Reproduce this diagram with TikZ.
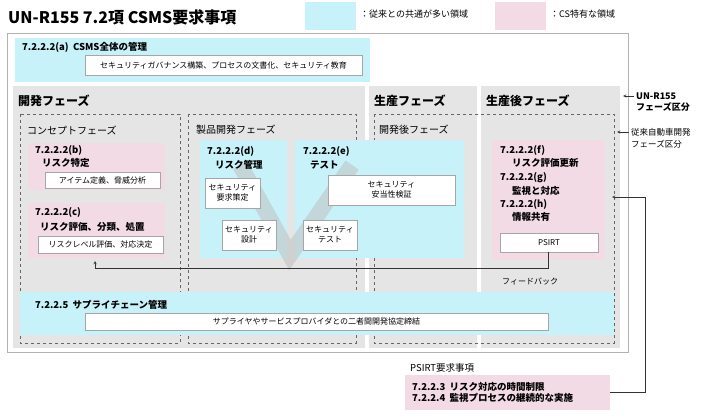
\documentclass[tikz,border=0pt]{standalone}
\usepackage{fontspec}
\setmainfont{Noto Sans CJK JP}
\definecolor{cyc}{RGB}{200,242,250}
\definecolor{pkc}{RGB}{242,219,228}
\begin{document}
\begin{tikzpicture}[x=1pt,y=-1pt,
  cy/.style={fill=cyc,draw=none},
  pk/.style={fill=pkc,draw=none},
  wb/.style={fill=white,draw=gray!70,line width=0.5pt,font=\fontsize{8}{10}\selectfont,align=center,inner sep=1pt},
  ph/.style={fill=gray!20,draw=none},
  db/.style={draw=gray!80!black,dashed,line width=0.4pt},
  bt/.style={font=\bfseries\fontsize{9.5}{11}\selectfont,anchor=west,inner sep=0},
  bl/.style={font=\fontsize{9}{11}\selectfont,anchor=west,inner sep=0},
  ar/.style={->,>=stealth,gray!40!black,line width=0.5pt}]
\useasboundingbox (0,0) rectangle (715,420);
\node[bt,font=\bfseries\fontsize{16}{18}\selectfont] (title) at (8,17) {UN-R155 7.2項 CSMS要求事項};
\fill[cy] (305,2) rectangle (356,30);
\node[bl] (lg1) at (360,14) {：従来との共通が多い領域};
\fill[pk] (495,2) rectangle (546,30);
\node[bl] (lg2) at (550,14) {：CS特有な領域};
\draw[gray!60,line width=0.8pt,fill=white] (7,33) rectangle (628,352);
\fill[cy] (15,38) rectangle (370,82);
\node[bt] (a) at (22,47) {7.2.2.2(a)\ \ CSMS全体の管理};
\node[wb,minimum width=277,minimum height=20] (aw) at (223.5,65) {セキュリティガバナンス構築、プロセスの文書化、セキュリティ教育};
\fill[ph] (13,86) rectangle (365,348);
\fill[ph] (369,86) rectangle (477,348);
\fill[ph] (481,86) rectangle (620,348);
\node[bt,font=\bfseries\fontsize{12}{14}\selectfont] (p1) at (18,101) {開発フェーズ};
\node[bt,font=\bfseries\fontsize{12}{14}\selectfont] (p2) at (374,101) {生産フェーズ};
\node[bt,font=\bfseries\fontsize{12}{14}\selectfont] (p3) at (486,101) {生産後フェーズ};
\node[bt,align=left,font=\bfseries\fontsize{9}{11}\selectfont] (r1) at (636,102) {UN-R155\\フェーズ区分};
\coordinate (r1a) at (623,96);
\draw[ar] (634,96) -- (r1a);
\node[bl,align=left,font=\fontsize{8.5}{12}\selectfont] (r2) at (631,138) {従来自動車開発\\フェーズ区分};
\coordinate (r2a) at (617,132);
\draw[ar] (629,132) -- (r2a);
\draw[db] (20,114) rectangle (180,343);
\draw[db] (188,114) rectangle (356,343);
\draw[db] (374,114) rectangle (614,343);
\node[bl,font=\fontsize{10}{12}\selectfont] (c1) at (27,130) {コンセプトフェーズ};
\node[bl,font=\fontsize{10}{12}\selectfont] (c2) at (196,130) {製品開発フェーズ};
\node[bl,font=\fontsize{10}{12}\selectfont] (c3) at (379,130) {開発後フェーズ};
% b, c
\fill[pk] (28,143) rectangle (165,190);
\node[bt] (b) at (35,150) {7.2.2.2(b)};
\node[bt] (b2) at (42,163) {リスク特定};
\node[wb,minimum width=115,minimum height=16] (bw) at (102.5,180.5) {アイテム定義、脅威分析};
\fill[pk] (28,203) rectangle (165,258);
\node[bt] (c) at (35,212) {7.2.2.2(c)};
\node[bt] (c2b) at (40,227) {リスク評価、分類、処置};
\node[wb,minimum width=125,minimum height=17] (cw) at (100.5,244.5) {リスクレベル評価、対応決定};
% d, e
\fill[cy] (200,140) rectangle (287,258);
\fill[cy] (295,140) rectangle (464,258);
\draw[gray!50,opacity=0.55,line width=16pt,line join=miter] (240,165) -- (290,255) -- (352,165);
\node[bt] (d) at (207,151) {7.2.2.2(d)};
\node[bt] (d2) at (215,165) {リスク管理};
\node[bt] (e) at (303,151) {7.2.2.2(e)};
\node[bt] (e2) at (310,165) {テスト};
\node[wb,minimum width=55,minimum height=30] (d3) at (232.5,193) {セキュリティ\\要求策定};
\node[wb,minimum width=54,minimum height=30] (d4) at (249,235) {セキュリティ\\設計};
\node[wb,minimum width=127,minimum height=30] (e3) at (391.5,190) {セキュリティ\\安当性検証};
\node[wb,minimum width=54,minimum height=30] (e4) at (330,235) {セキュリティ\\テスト};
% f
\fill[pk] (492,140) rectangle (605,260);
\node[bt] (f) at (500,150) {7.2.2.2(f)};
\node[bt] (f2) at (512,163) {リスク評価更新};
\node[bt] (g) at (500,178) {7.2.2.2(g)};
\node[bt] (g2) at (512,191) {監視と対応};
\node[bt] (h) at (500,204) {7.2.2.2(h)};
\node[bt] (h2) at (512,217) {情報共有};
\node[wb,minimum width=98,minimum height=19] (ps) at (549,242.5) {PSIRT};
\coordinate (fb1) at (548,268);
\coordinate (fb2) at (95,268);
\coordinate (cin) at (95,261);
\draw[ar] (548,252) -- (fb1) -- (fb2) -- (cin);
\node[bl,font=\fontsize{8}{10}\selectfont] (fbl) at (502,282) {フィードバック};
% supply chain
\fill[cy] (20,292) rectangle (614,335);
\node[bt] (s) at (35,305) {7.2.2.5\ \ サプライチェーン管理};
\node[wb,minimum width=463,minimum height=17] (sw) at (316.5,321.5) {サプライヤやサービスプロバイダとの二者間開発協定締結};
% PSIRT req
\node[bl,font=\fontsize{9.5}{11}\selectfont] (pr) at (410,368) {PSIRT要求事項};
\fill[pk] (405,375) rectangle (610,410);
\node[bt,align=left] (pq) at (412,392.5) {7.2.2.3\ \ リスク対応の時間制限\\7.2.2.4\ \ 監視プロセスの継続的な実施};
\coordinate (k1) at (645,392);
\coordinate (k2) at (645,197);
\draw[ar] (610,392) -- (k1) -- (k2) -- (612,197);
\end{tikzpicture}
\end{document}
